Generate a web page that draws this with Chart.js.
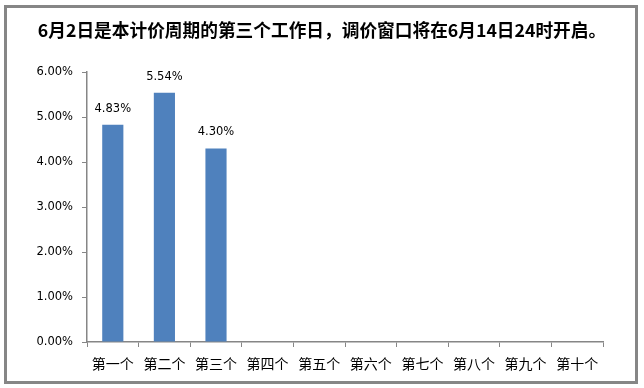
<!DOCTYPE html>
<html lang="zh">
<head>
    <meta charset="UTF-8">
    <title>调价窗口</title>
    <script src="https://cdn.jsdelivr.net/npm/chart.js"></script>
    <style>
        body { margin: 0; background: #fff; }
        #wrap { position: relative; width: 644px; height: 388px; }
        #frame {
            position: absolute; left: 4px; top: 5px; width: 628px; height: 373px;
            border: 3px solid #868686; pointer-events: none;
        }
    </style>
</head>
<body>
    <div id="wrap">
        <canvas id="priceChart" width="644" height="388"></canvas>
        <div id="frame"></div>
    </div>

    <script>
        const titleText = "6月2日是本计价周期的第三个工作日，调价窗口将在6月14日24时开启。";
        const days = ["第一个", "第二个", "第三个", "第四个", "第五个", "第六个", "第七个", "第八个", "第九个", "第十个"];
        const changeRate = [4.83, 5.54, 4.30, null, null, null, null, null, null, null];
        const yTicks = [0, 1, 2, 3, 4, 5, 6];

        // title centred on the whole picture, not just the plot
        const pageTitle = {
            id: "pageTitle",
            afterDraw(chart) {
                const ctx = chart.ctx;
                ctx.save();
                ctx.font = "bold 17.7px 'Noto Sans CJK SC'";
                ctx.fillStyle = "#000";
                ctx.textAlign = "center";
                ctx.textBaseline = "middle";
                ctx.fillText(titleText, chart.width / 2, 30);
                ctx.restore();
            }
        };

        // value labels above the bars
        const barLabels = {
            id: "barLabels",
            afterDatasetsDraw(chart) {
                const ctx = chart.ctx;
                const meta = chart.getDatasetMeta(0);
                ctx.save();
                ctx.font = "11.5px 'DejaVu Sans'";
                ctx.fillStyle = "#000";
                ctx.textAlign = "center";
                ctx.textBaseline = "middle";
                meta.data.forEach((bar, i) => {
                    const v = changeRate[i];
                    if (v == null) return;
                    ctx.fillText(v.toFixed(2) + "%", bar.x, bar.y - 16);
                });
                ctx.restore();
            }
        };

        const ctx = document.getElementById("priceChart").getContext("2d");
        new Chart(ctx, {
            type: "bar",
            data: {
                labels: days,
                datasets: [{
                    data: changeRate,
                    backgroundColor: "#4F81BD",
                    barPercentage: 0.41,
                    categoryPercentage: 1
                }]
            },
            options: {
                responsive: false,
                animation: false,
                layout: { padding: { left: 0, right: 41, top: 72, bottom: 0 } },
                plugins: {
                    legend: { display: false },
                    tooltip: { enabled: false },
                    title: { display: false }
                },
                scales: {
                    x: {
                        grid: { drawOnChartArea: false, tickLength: 5, color: "#868686" },
                        border: { color: "#868686", width: 1.5 },
                        ticks: {
                            color: "#000",
                            font: { family: "'Noto Sans CJK SC'", size: 14 },
                            padding: 8,
                            maxRotation: 0,
                            autoSkip: false
                        },
                        afterFit(scale) { scale.height = 46; }
                    },
                    y: {
                        min: 0,
                        max: 6,
                        afterBuildTicks(scale) { scale.ticks = yTicks.map(v => ({ value: v })); },
                        grid: { drawOnChartArea: false, tickLength: 5, color: "#868686" },
                        border: { color: "#868686", width: 1.5 },
                        ticks: {
                            color: "#000",
                            font: { family: "'DejaVu Sans'", size: 11.5 },
                            padding: 9,
                            callback: v => v.toFixed(2) + "%"
                        },
                        afterFit(scale) { scale.width = 87; }
                    }
                }
            },
            plugins: [barLabels, pageTitle]
        });
    </script>
</body>
</html>
